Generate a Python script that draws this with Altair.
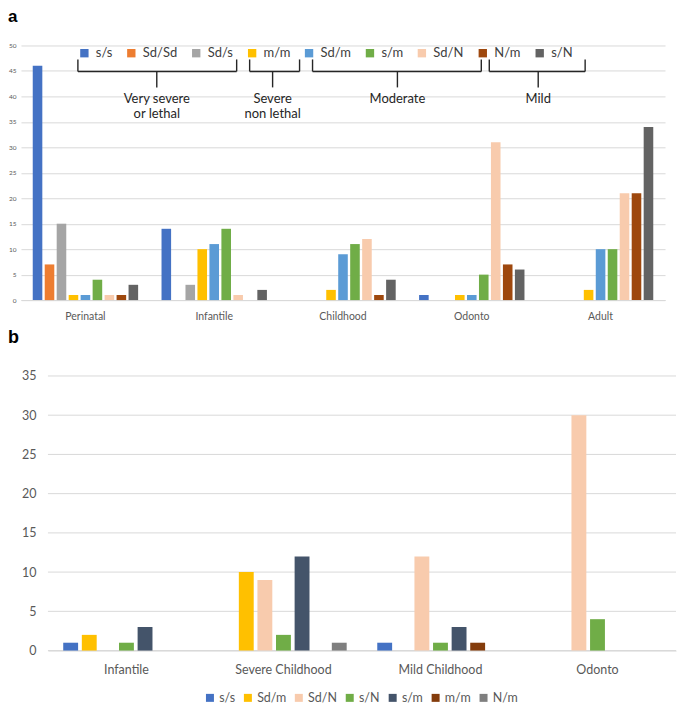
import altair as alt
import pandas as pd

# panel a: genotype counts per clinical form
cats_a = ["Perinatal", "Infantile", "Childhood", "Odonto", "Adult"]
series_a = ["s/s", "Sd/Sd", "Sd/s", "m/m", "Sd/m", "s/m", "Sd/N", "N/m", "s/N"]
ss_a = [46, 14, 0, 1, 0]
sdsd_a = [7, 0, 0, 0, 0]
sds_a = [15, 3, 0, 0, 0]
mm_a = [1, 10, 2, 1, 2]
sdm_a = [1, 11, 9, 1, 10]
sm_a = [4, 14, 11, 5, 10]
sdn_a = [1, 1, 12, 31, 21]
nm_a = [1, 0, 1, 7, 21]
sn_a = [3, 2, 4, 6, 34]
colors_a = ["#4472C4", "#ED7D31", "#A5A5A5", "#FFC000", "#5B9BD5",
            "#70AD47", "#F8CBAD", "#9E480E", "#636363"]

# panel b
cats_b = ["Infantile", "Severe Childhood", "Mild Childhood", "Odonto"]
series_b = ["s/s", "Sd/m", "Sd/N", "s/N", "s/m", "m/m", "N/m"]
ss_b = [1, 0, 1, 0]
sdm_b = [2, 10, 0, 0]
sdn_b = [0, 9, 12, 30]
sn_b = [1, 2, 1, 4]
sm_b = [3, 12, 3, 0]
mm_b = [0, 0, 1, 0]
nm_b = [0, 1, 0, 0]
colors_b = ["#4472C4", "#FFC000", "#F8CBAD", "#70AD47", "#44546A", "#843C0C", "#7F7F7F"]
ticks_b = [0, 5, 10, 15, 20, 25, 30, 35]

# severity braces drawn under the legend of panel a (x-left, x-right, x-centre, text lines)
braces = [
    (57, 216, 136, ["Very severe", "or lethal"]),
    (229, 279, 252, ["Severe", "non lethal"]),
    (292, 461, 377, ["Moderate"]),
    (469, 565, 518, ["Mild"]),
]

GRAY = "#595959"
GRID = "#D9D9D9"
INK = "#262626"
FONT = "Lato"

W_A, H_A = 645, 255
W_B, H_B, B_LEFT = 656, 275, 27


def long_table(cats, series, values):
    rows = []
    for name, vals in zip(series, values):
        for cat, v in zip(cats, vals):
            rows.append({"group": cat, "genotype": name, "count": v})
    return pd.DataFrame(rows)


def bars(df, cats, series, colors, ymax, x_scale, x_axis, y_axis, legend):
    return (
        alt.Chart(df)
        .mark_bar()
        .encode(
            x=alt.X("group:N", sort=cats, title=None, scale=x_scale, axis=x_axis),
            xOffset=alt.XOffset("genotype:N", sort=series,
                                scale=alt.Scale(domain=series, paddingInner=0.2, paddingOuter=0.1)),
            y=alt.Y("count:Q", title=None, scale=alt.Scale(domain=[0, ymax], nice=False), axis=y_axis),
            color=alt.Color("genotype:N", sort=series,
                            scale=alt.Scale(domain=series, range=colors), legend=legend),
        )
    )


one = pd.DataFrame({"k": [0]})


def seg(x1, y1, x2, y2):
    return alt.Chart(one).mark_rule(color=INK, strokeWidth=1.4).encode(
        x=alt.value(x1), x2=alt.value(x2), y=alt.value(y1), y2=alt.value(y2)
    )


def label(x, y, txt):
    return alt.Chart(one).mark_text(text=txt, font=FONT, fontSize=13, color=INK).encode(
        x=alt.value(x), y=alt.value(y)
    )


notes = []
for x1, x2, xc, lines in braces:
    notes += [seg(x1, 14, x1, 26), seg(x2, 14, x2, 26), seg(x1, 26, x2, 26), seg(xc, 26, xc, 42)]
    for i, line in enumerate(lines):
        notes.append(label(xc, 54 + 15 * i, line))

legend_a = alt.Legend(orient="none", legendX=57, legendY=1, direction="horizontal", title=None,
                      symbolType="square", symbolSize=70, labelFontSize=13,
                      labelColor="#404040", labelFont=FONT, columnPadding=12, labelOffset=5, padding=0)
legend_b = alt.Legend(orient="none", legendX=183, legendY=H_B + 41, direction="horizontal", title=None,
                      symbolType="square", symbolSize=64, labelFontSize=12.5,
                      labelColor=GRAY, labelFont=FONT, columnPadding=6, labelOffset=3, padding=0)

df_a = long_table(cats_a, series_a, [ss_a, sdsd_a, sds_a, mm_a, sdm_a, sm_a, sdn_a, nm_a, sn_a])
df_b = long_table(cats_b, series_b, [ss_b, sdm_b, sdn_b, sn_b, sm_b, mm_b, nm_b])

bars_a = bars(
    df_a, cats_a, series_a, colors_a, 50,
    alt.Scale(paddingInner=0.163, paddingOuter=0.082),
    alt.Axis(labelAngle=0, labelFontSize=10.5, labelColor=GRAY, labelFont=FONT, labelPadding=11,
             ticks=False, domainColor=GRID, grid=False),
    alt.Axis(values=list(range(0, 51, 5)), labelFontSize=6.5, labelColor=GRAY, labelFont=FONT,
             labelPadding=5, ticks=False, domain=False, gridColor=GRID, labelOverlap=False),
    legend_a,
)

panel_a = alt.layer(bars_a, *notes).properties(
    width=W_A, height=H_A,
    title=alt.TitleParams("a", anchor="start", frame="group", dx=-13, offset=16, fontSize=17,
                          fontWeight="bold", font="Liberation Sans", color="black"),
)

# panel b's plot starts further right than panel a's: shift its range and draw its own grid
y_axis_b = alt.Axis(values=ticks_b, labelFontSize=12.5, labelColor=GRAY, labelFont=FONT,
                    labelOverlap=False, labelPadding=12, ticks=False, domain=False, grid=False,
                    offset=-B_LEFT)
bars_b = bars(
    df_b, cats_b, series_b, colors_b, 35,
    alt.Scale(paddingInner=0.171, paddingOuter=0.0855, range=[B_LEFT, W_B]),
    alt.Axis(labelAngle=0, labelFontSize=12.5, labelColor=GRAY, labelFont=FONT, labelPadding=13,
             ticks=False, domainColor=GRID, grid=False),
    y_axis_b,
    legend_b,
)
grid_b = alt.Chart(pd.DataFrame({"tick": ticks_b})).mark_rule(color=GRID, strokeWidth=1).encode(
    y=alt.Y("tick:Q", title=None, axis=y_axis_b), x=alt.value(B_LEFT), x2=alt.value(W_B)
)

panel_b = alt.layer(grid_b, bars_b).properties(
    width=W_B, height=H_B,
    title=alt.TitleParams("b", anchor="start", frame="group", dx=-13, offset=23, fontSize=18,
                          fontWeight="bold", font="Liberation Sans", color="black"),
)

chart = (
    alt.vconcat(panel_a, panel_b, spacing=7)
    .resolve_scale(color="independent", xOffset="independent", x="independent", y="independent")
    .properties(padding=0)
    .configure_view(stroke=None)
)

chart.save("out.html", embed_options={"renderer": "svg", "actions": False})
